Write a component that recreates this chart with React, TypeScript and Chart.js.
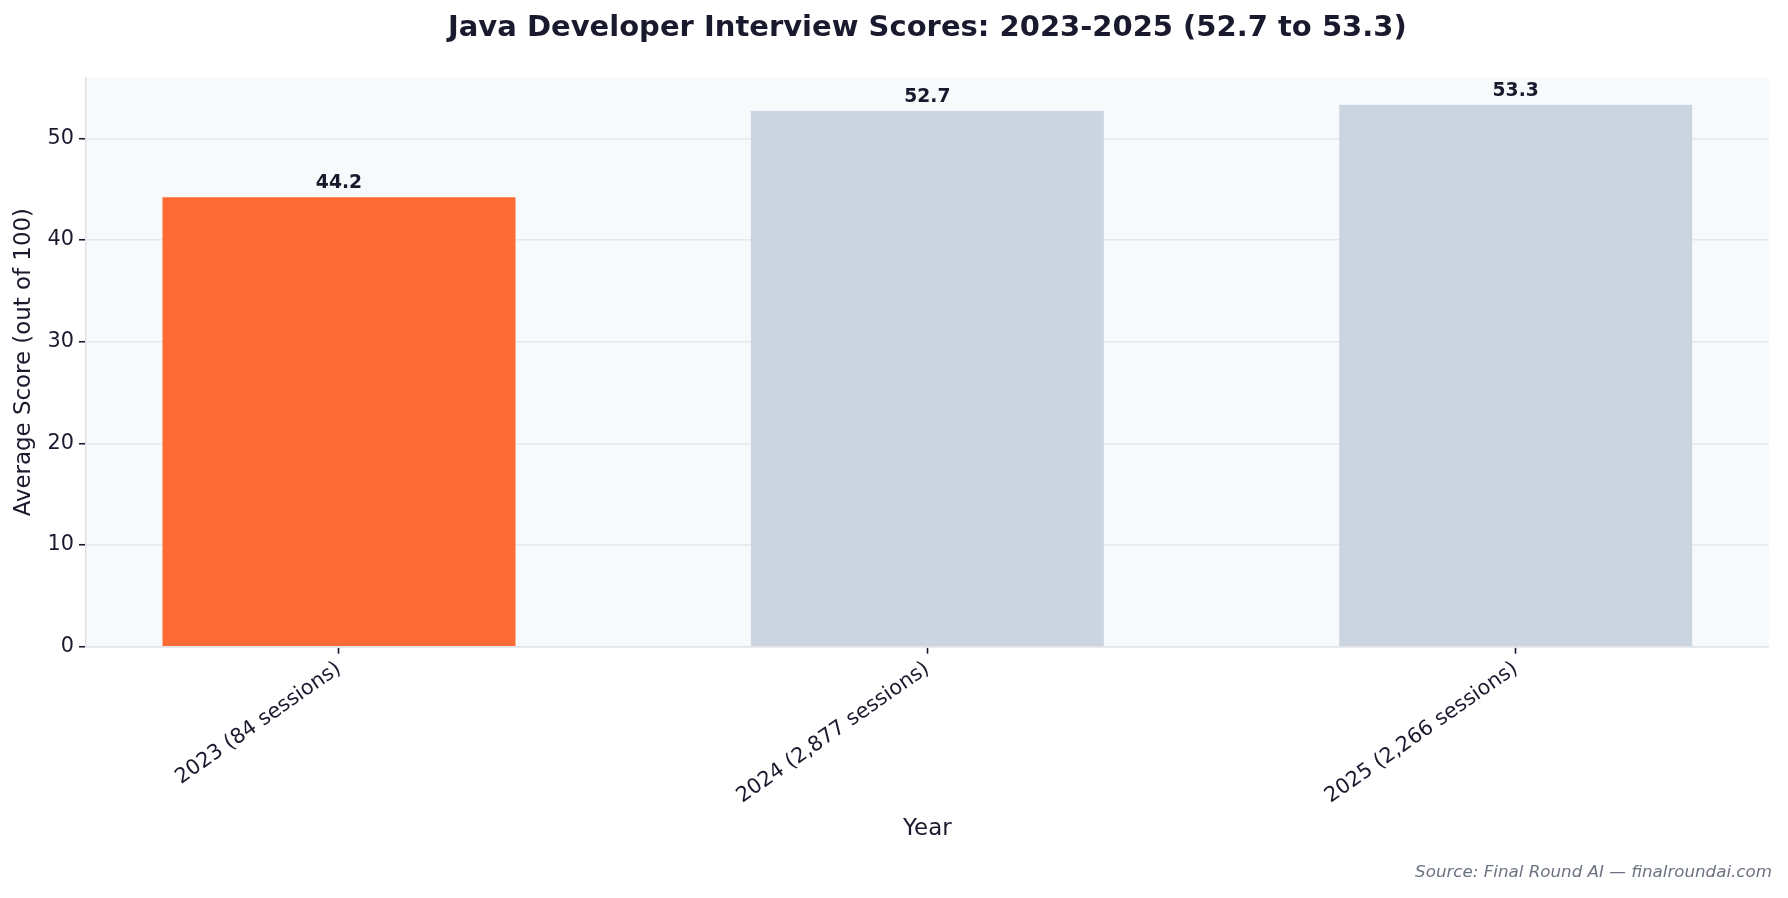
import React, { useEffect, useRef } from 'react';
import { Chart, registerables } from 'chart.js';

Chart.register(...registerables);

// ---- data ----
const years = ['2023', '2024', '2025'];
const sessions = [84, 2877, 2266];
const scores = [44.2, 52.7, 53.3];
const barColors = ['#FF6B35', '#CBD5E1', '#CBD5E1'];
const yTicks = [0, 10, 20, 30, 40, 50];
const titleText = 'Java Developer Interview Scores: 2023-2025 (52.7 to 53.3)';
const sourceText = 'Source: Final Round AI \u2014 finalroundai.com';
const xTitle = 'Year';
const yTitle = 'Average Score (out of 100)';

const xLabels = years.map((y, i) => `${y} (${sessions[i].toLocaleString('en-US')} sessions)`);

const W = 1788;
const H = 898;
const FONT = "'DejaVu Sans', sans-serif";
const INK = '#1a1a2e';

const overlay = {
  id: 'overlay',
  beforeDraw(chart: any) {
    const { ctx, chartArea } = chart;
    ctx.save();
    ctx.fillStyle = '#ffffff';
    ctx.fillRect(0, 0, chart.width, chart.height);
    ctx.fillStyle = '#f8f9fb';
    ctx.fillRect(chartArea.left, chartArea.top, chartArea.right - chartArea.left, chartArea.bottom - chartArea.top);
    ctx.restore();
  },
  afterDatasetsDraw(chart: any) {
    const { ctx, chartArea } = chart;
    ctx.save();
    const meta = chart.getDatasetMeta(0);
    ctx.font = `bold 18.75px ${FONT}`;
    ctx.fillStyle = INK;
    ctx.textAlign = 'center';
    ctx.textBaseline = 'alphabetic';
    meta.data.forEach((bar: any, i: number) => {
      ctx.fillText(scores[i].toFixed(1), bar.x, bar.y - 9);
    });
    // title
    ctx.font = `bold 29px ${FONT}`;
    ctx.fillText(titleText, (chartArea.left + chartArea.right) / 2, 36);
    // source
    ctx.font = `italic 16.7px ${FONT}`;
    ctx.fillStyle = '#6b7280';
    ctx.textAlign = 'right';
    ctx.fillText(sourceText, 1772, 876.7);
    ctx.restore();
  },
};

export default function App() {
  const ref = useRef<HTMLCanvasElement | null>(null);
  useEffect(() => {
    if (!ref.current) return;
    const chart = new Chart(ref.current, {
      type: 'bar',
      data: {
        datasets: [
          {
            data: scores.map((s, i) => ({ x: i, y: s })),
            backgroundColor: barColors,
            borderWidth: 0,
            barPercentage: 0.6,
            categoryPercentage: 1.0,
          },
        ],
      },
      options: {
        responsive: false,
        animation: false,
        devicePixelRatio: 1,
        layout: { padding: { top: 77.7, right: 19.3, left: 0, bottom: 0 } },
        plugins: { legend: { display: false }, tooltip: { enabled: false }, title: { display: false } },
        scales: {
          x: {
            type: 'linear',
            min: -0.43,
            max: 2.43,
            offset: false,
            afterBuildTicks: (s: any) => {
              s.ticks = xLabels.map((_, i) => ({ value: i }));
            },
            afterFit: (s: any) => {
              s.height = H - 646.7;
            },
            ticks: {
              callback: (_v: any, i: number) => xLabels[i],
              autoSkip: false,
              minRotation: 35,
              maxRotation: 35,
              font: { family: FONT, size: 20.8 },
              color: INK,
              padding: 3,
            },
            grid: {
              offset: false,
              drawOnChartArea: false,
              drawTicks: true,
              tickLength: 7,
              tickColor: INK,
              tickWidth: 1.6,
            },
            border: { display: true, color: '#dfe2e7', width: 1.6 },
            title: {
              display: true,
              text: xTitle,
              font: { family: FONT, size: 22.9 },
              color: INK,
              padding: { top: 0, bottom: 55.5 },
            },
          },
          y: {
            type: 'linear',
            min: 0,
            max: 55.965,
            afterBuildTicks: (s: any) => {
              s.ticks = yTicks.map((v) => ({ value: v }));
            },
            afterFit: (s: any) => {
              s.width = 86;
            },
            ticks: {
              font: { family: FONT, size: 20.8 },
              color: INK,
              padding: 5,
            },
            grid: {
              color: '#e6e8ec',
              lineWidth: 1.5,
              drawTicks: true,
              tickLength: 7,
              tickColor: INK,
              tickWidth: 1.6,
            },
            border: { display: true, color: '#dfe2e7', width: 1.6 },
            title: {
              display: true,
              text: yTitle,
              font: { family: FONT, size: 22.9 },
              color: INK,
              padding: { top: 10, bottom: 0 },
            },
          },
        },
      },
      plugins: [overlay],
    } as any);
    return () => chart.destroy();
  }, []);
  return (
    <div style={{ position: 'fixed', left: 0, top: 0, width: W, height: H, background: '#fff' }}>
      <canvas ref={ref} width={W} height={H} style={{ width: W, height: H, display: 'block' }} />
    </div>
  );
}
